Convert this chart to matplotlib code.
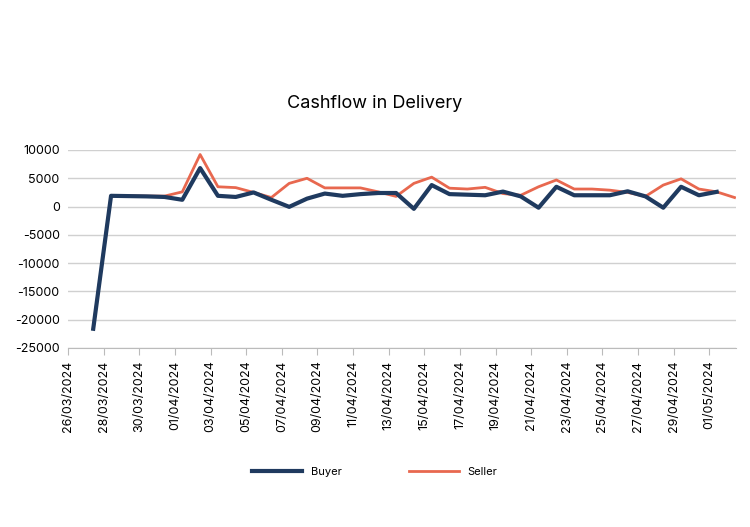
import matplotlib
matplotlib.use("Agg")
import matplotlib.pyplot as plt
import matplotlib.dates as mdates
import numpy as np
from datetime import datetime, timedelta

plt.rcParams['font.family'] = ['Inter', 'DejaVu Sans']

start = datetime(2024, 3, 27)
dates = [start + timedelta(days=i) for i in range(37)]
buyer = [-21600, 1900, 1850, 1800, 1700, 1200, 6800, 1900, 1700, 2500, 1200, -50,
         1400, 2300, 1900, 2200, 2400, 2400, -400, 3800, 2200, 2100, 2000, 2650,
         1800, -200, 3500, 2000, 2000, 2000, 2700, 1800, -200, 3500, 2000, 2600, None]
seller = [-21500, 1900, 1900, 1850, 1850, 2600, 9200, 3500, 3350, 2500, 1600, 4100,
          5000, 3300, 3300, 3300, 2600, 1800, 4100, 5200, 3250, 3100, 3400, 2300,
          2000, 3500, 4700, 3100, 3100, 2900, 2500, 1800, 3800, 4900, 3100, 2600, 1600]
yticks = [10000, 5000, 0, -5000, -10000, -15000, -20000, -25000]

fig = plt.figure(figsize=(7.5, 5.27), dpi=100)
ax = fig.add_axes([68/750, 1-348/527, (736-68)/750, (348-150)/527])

xs = [d + timedelta(hours=10) for d in dates]
b = np.array([np.nan if v is None else v for v in buyer], dtype=float)
ax.plot(xs, seller, color='#E8684F', lw=2, label='Seller', zorder=3)
ax.plot(xs, b, color='#1F3A5F', lw=3, label='Buyer', zorder=4)

x0 = datetime(2024, 3, 26)
ax.set_xlim(x0, x0 + timedelta(days=37.5))
ax.set_ylim(-25000, 10000)
ax.set_yticks(yticks)
ax.set_yticklabels([str(v) for v in yticks], fontsize=9)
ax.yaxis.grid(True, color='#D0D0D0', lw=1)
ax.set_axisbelow(True)
ax.xaxis.set_major_locator(mdates.DayLocator(interval=2, bymonthday=None))
ax.set_xticks([x0 + timedelta(days=2*k) for k in range(19)])
ax.xaxis.set_major_formatter(mdates.DateFormatter('%d/%m/%Y'))
plt.setp(ax.get_xticklabels(), rotation=90, fontsize=9)
ax.tick_params(axis='y', length=0, pad=6)
ax.tick_params(axis='x', length=5, color='#BBBBBB', pad=4)
for s in ['top', 'right', 'left']:
    ax.spines[s].set_visible(False)
ax.spines['bottom'].set_color('#BBBBBB')

fig.text(0.5, 1-103/527, 'Cashflow in Delivery', ha='center', va='center', fontsize=13)
h, l = ax.get_legend_handles_labels()
fig.legend(h[::-1], l[::-1], loc='center', bbox_to_anchor=(0.5, 1-472/527), ncol=2,
           frameon=False, fontsize=8, handlelength=4.5, columnspacing=6)
fig.savefig('out.png', dpi=100)
